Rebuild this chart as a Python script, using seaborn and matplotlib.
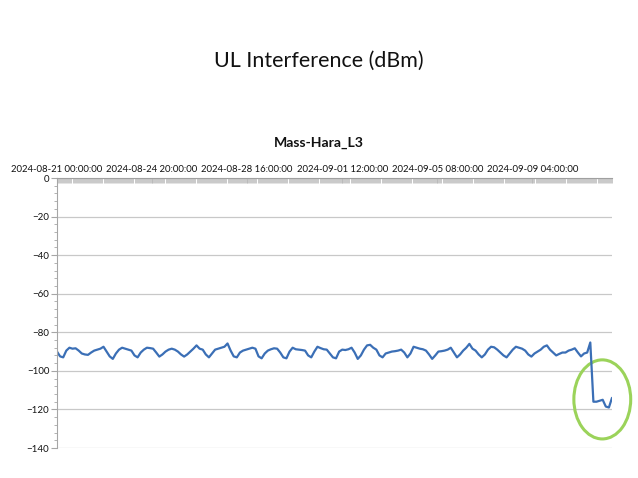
import pandas as pd
import numpy as np
import matplotlib
matplotlib.use("Agg")
import matplotlib.pyplot as plt
import matplotlib.dates as mdates
from matplotlib.ticker import MultipleLocator, FixedLocator
from matplotlib.patches import Ellipse
import seaborn as sns

title = "UL Interference (dBm)"
series_name = "Mass-Hara_L3"
start_time = "2024-08-21 00:00:00"
step_hours = 3
tick_label_hours = [0, 92, 184, 276, 368, 460]
y_ticks = [0, -20, -40, -60, -80, -100, -120, -140]

# values every 3 hours, one row per day (00,03,...,21)
values = [
    -90, -92.5, -93, -89.5, -88, -88.5, -88.3, -89.5,
    -91, -91.5, -91.7, -90.5, -89.5, -89, -88.5, -87.5,
    -90, -92.5, -93.8, -91, -89, -88, -88.5, -89,
    -89.5, -92, -93, -90.5, -89, -88, -88.2, -88.5,
    -90.5, -92.6, -91.5, -90, -89, -88.5, -89, -90,
    -91.5, -92.6, -91.5, -90, -88.5, -86.8, -88.5, -89,
    -91.5, -93, -91, -89, -88.5, -88, -87.5, -85.8,
    -89.5, -92.5, -93, -90.5, -89.5, -89, -88.5, -88,
    -88.5, -92.5, -93.5, -91, -89.5, -88.8, -88.3, -88.5,
    -90.5, -93, -93.5, -90, -88, -88.8, -89, -89.2,
    -89.5, -92, -93, -90, -87.5, -88.2, -88.8, -89,
    -91, -93, -93.5, -90, -89, -89.2, -88.8, -88,
    -90.5, -93.8, -92, -89, -86.8, -86.5, -88, -89,
    -92, -93, -91, -90.5, -90, -89.8, -89.5, -89,
    -90.5, -93, -91, -87.5, -88, -88.5, -88.8, -89.5,
    -91.5, -93.8, -92, -90, -89.8, -89.5, -89, -88,
    -90.5, -93, -91.5, -89.5, -88, -86, -88.5, -89.5,
    -91.5, -93, -91.5, -89, -87.5, -87.8, -89, -90.5,
    -92, -93, -91, -89, -87.5, -88, -88.5, -89.5,
    -91.5, -92.6, -91, -90, -89, -87.5, -86.8, -89,
    -90.5, -92, -91.2, -90.5, -90.5, -89.5, -89, -88.3,
    -90.5, -92.5, -91, -90.5, -85.3, -116, -116, -115.5,
    -115, -118.5, -119, -114,
]

t0 = pd.Timestamp(start_time)
times = pd.date_range(t0, periods=len(values), freq=f"{step_hours}h")
df = pd.DataFrame({"time": times, "value": values})

sns.set_theme(style="white")
plt.rcParams["font.family"] = ["Lato", "DejaVu Sans"]

fig = plt.figure(figsize=(6.38, 4.78), dpi=100)
ax = fig.add_axes([57/638, 1-448/478, (612-57)/638, (448-178)/478])

sns.lineplot(data=df, x="time", y="value", ax=ax, color="#3B6FB6", linewidth=1.6)

ax.set_ylim(-140, 0)
ax.set_xlim(times[0], times[-1])
ax.set_xlabel("")
ax.set_ylabel("")

# y axis
ax.yaxis.set_major_locator(FixedLocator(y_ticks))
ax.yaxis.set_minor_locator(MultipleLocator(4))
ax.tick_params(axis="y", which="major", direction="out", length=4, width=0.8,
               color="#A6A6A6", labelsize=7, labelcolor="#111111", pad=1.5, left=True)
ax.tick_params(axis="y", which="minor", direction="out", length=2.5, width=0.6,
               color="#A6A6A6", left=True)
ax.grid(axis="y", which="major", color="#C8C8C8", linewidth=0.9)
ax.grid(axis="x", visible=False)

# x axis on top
xt = [t0 + pd.Timedelta(hours=h) for h in tick_label_hours]
ax.xaxis.tick_top()
ax.xaxis.set_label_position("top")
ax.set_xticks(xt)
ax.set_xticklabels([t.strftime("%Y-%m-%d %H:%M:%S") for t in xt])
ax.xaxis.set_minor_locator(mdates.HourLocator(interval=1))
ax.xaxis.remove_overlapping_locs = False
ax.tick_params(axis="x", which="major", direction="in", length=3.5, width=0.5,
               color="#B4B4B4", labelsize=6.8, labelcolor="#111111", pad=3, top=True, bottom=False)
ax.tick_params(axis="x", which="minor", direction="in", length=3.5, width=0.5,
               color="#B4B4B4", top=True, bottom=False)

for s in ["right", "bottom"]:
    ax.spines[s].set_visible(False)
ax.spines["left"].set_color("#A6A6A6")
ax.spines["left"].set_linewidth(0.8)
ax.spines["top"].set_color("#A0A0A0")
ax.spines["top"].set_linewidth(0.8)

# highlight ellipse
ell = Ellipse((mdates.date2num(t0 + pd.Timedelta(hours=527.6)), -114.8),
              width=55/24.0, height=41, fill=False, edgecolor="#9BD35A",
              linewidth=2.2, clip_on=False, transform=ax.transData)
ax.add_patch(ell)

fig.text(0.5, 1-61/478, title, ha="center", va="center", fontsize=15.4, color="#111111")
fig.text(0.5, 1-143/478, series_name, ha="center", va="center", fontsize=10.1,
         fontweight="bold", color="#111111")

fig.savefig("out.png", dpi=100)
